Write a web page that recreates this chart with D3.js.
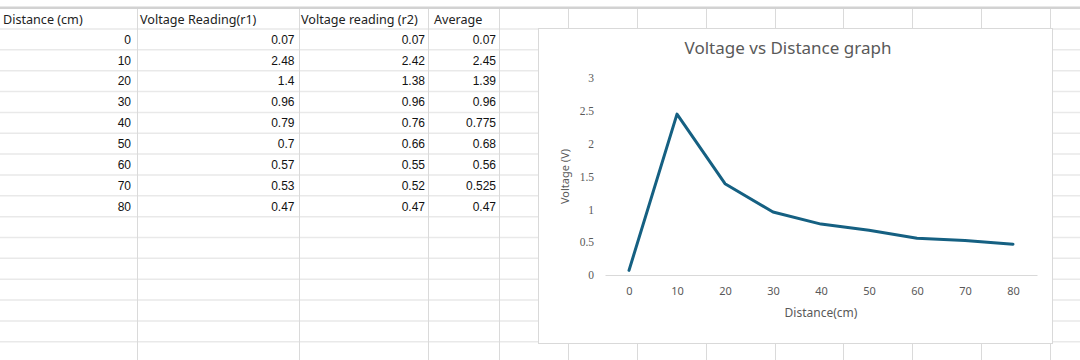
<!DOCTYPE html>
<html>
<head>
<meta charset="utf-8">
<script src="https://cdn.jsdelivr.net/npm/d3@7"></script>
<style>
  html, body { margin: 0; padding: 0; background: #fff; }
  svg { display: block; }
</style>
</head>
<body>
<div id="sheet"></div>
<script>
(function(){
  // sheet data
  var headers = ['Distance (cm)', 'Voltage Reading(r1)', 'Voltage reading (r2)', 'Average'];
  var distance = [0, 10, 20, 30, 40, 50, 60, 70, 80];
  var reading1 = [0.07, 2.48, 1.4, 0.96, 0.79, 0.7, 0.57, 0.53, 0.47];
  var reading2 = [0.07, 2.42, 1.38, 0.96, 0.76, 0.66, 0.55, 0.52, 0.47];
  var average = [0.07, 2.45, 1.39, 0.96, 0.775, 0.68, 0.56, 0.525, 0.47];
  var yTicks = [0, 0.5, 1, 1.5, 2, 2.5, 3];
  var chartTitle = 'Voltage vs Distance graph';
  var xTitle = 'Distance(cm)';
  var yTitle = 'Voltage (V)';

  var width = 1080;
  var height = 360;

  // spreadsheet grid geometry
  var colLines = [137, 299, 428, 499, 568, 637, 706, 775, 843, 912, 981, 1050];
  var rowTop = 29;
  var rowH = 20.85;
  var nRows = 16;

  var svg = d3.select('#sheet').append('svg')
    .attr('width', width)
    .attr('height', height);

  svg.append('rect')
    .attr('width', width).attr('height', height).attr('fill', '#fff');

  // horizontal grid lines
  svg.selectAll('line.hrow')
    .data(d3.range(nRows))
    .enter().append('line')
    .attr('class', 'hrow')
    .attr('x1', 0).attr('x2', width)
    .attr('y1', function(d){ return rowTop + d * rowH; })
    .attr('y2', function(d){ return rowTop + d * rowH; })
    .attr('stroke', '#e9e9e9')
    .attr('stroke-width', 1.5);

  // vertical grid lines
  svg.selectAll('line.vcol')
    .data(colLines)
    .enter().append('line')
    .attr('class', 'vcol')
    .attr('x1', function(d){ return d + 0.5; })
    .attr('x2', function(d){ return d + 0.5; })
    .attr('y1', 9).attr('y2', height)
    .attr('stroke', '#dadada')
    .attr('stroke-width', 1);

  // top border under the formula bar
  svg.append('rect')
    .attr('x', 0).attr('y', 6.5).attr('width', width).attr('height', 2.5)
    .attr('fill', '#d2d2d2');

  // header cells
  var headerX = [3, 140, 301, 434];
  svg.selectAll('text.head')
    .data(headers)
    .enter().append('text')
    .attr('class', 'head')
    .attr('x', function(d, i){ return headerX[i]; })
    .attr('y', 24)
    .attr('font-family', 'Noto Sans')
    .attr('font-size', '12.6px')
    .attr('fill', '#222')
    .text(function(d){ return d; });

  // data cells (right aligned)
  var cols = [distance, reading1, reading2, average];
  var rightX = [131, 294.5, 425, 496];
  cols.forEach(function(values, c){
    svg.selectAll('text.c' + c)
      .data(values)
      .enter().append('text')
      .attr('class', 'c' + c)
      .attr('text-anchor', 'end')
      .attr('x', rightX[c])
      .attr('y', function(d, i){ return rowTop + (i + 0.5) * rowH + 4.3; })
      .attr('font-family', 'Liberation Sans')
      .attr('font-size', '12px')
      .attr('fill', '#111')
      .text(function(d){ return String(d); });
  });

  // chart object
  var box = { x: 538, y: 28, w: 514, h: 315 };
  svg.append('rect')
    .attr('x', box.x + 0.5).attr('y', box.y + 0.5)
    .attr('width', box.w).attr('height', box.h)
    .attr('fill', '#fff')
    .attr('stroke', '#d9d9d9');

  var x = d3.scalePoint()
    .domain(distance)
    .range([605, 1037])
    .padding(0.5);

  var y = d3.scaleLinear()
    .domain([0, 3])
    .range([275, 78]);

  svg.append('text')
    .attr('x', 788).attr('y', 54)
    .attr('text-anchor', 'middle')
    .attr('font-family', 'Noto Sans')
    .attr('font-size', '17px')
    .attr('fill', '#595959')
    .text(chartTitle);

  // y axis labels
  var yAxis = svg.append('g')
    .attr('transform', 'translate(594,0)')
    .call(d3.axisLeft(y).tickValues(yTicks).tickSize(0).tickPadding(0)
      .tickFormat(function(d){ return String(d); }));
  yAxis.select('.domain').remove();
  yAxis.selectAll('text')
    .attr('font-family', 'Liberation Serif')
    .attr('font-size', '11.5px')
    .attr('fill', '#595959');

  // x axis
  var xAxis = svg.append('g')
    .attr('transform', 'translate(0,' + y(0) + ')')
    .call(d3.axisBottom(x).tickSize(0).tickPadding(12));
  xAxis.select('.domain').attr('stroke', '#d9d9d9').attr('stroke-width', 1);
  xAxis.selectAll('text')
    .attr('font-family', 'Noto Sans')
    .attr('font-size', '11px')
    .attr('fill', '#595959');

  svg.append('text')
    .attr('x', (x.range()[0] + x.range()[1]) / 2).attr('y', 317)
    .attr('text-anchor', 'middle')
    .attr('font-family', 'Noto Sans')
    .attr('font-size', '12px')
    .attr('fill', '#595959')
    .text(xTitle);

  svg.append('text')
    .attr('transform', 'translate(569,' + (y(0) + y(3)) / 2 + ') rotate(-90)')
    .attr('text-anchor', 'middle')
    .attr('font-family', 'Noto Sans')
    .attr('font-size', '11px')
    .attr('fill', '#595959')
    .text(yTitle);

  // average line
  var line = d3.line()
    .x(function(d, i){ return x(distance[i]); })
    .y(function(d){ return y(d); });

  svg.append('path')
    .datum(average)
    .attr('d', line)
    .attr('fill', 'none')
    .attr('stroke', '#156082')
    .attr('stroke-width', 3)
    .attr('stroke-linejoin', 'round')
    .attr('stroke-linecap', 'round');
})();
</script>
</body>
</html>
